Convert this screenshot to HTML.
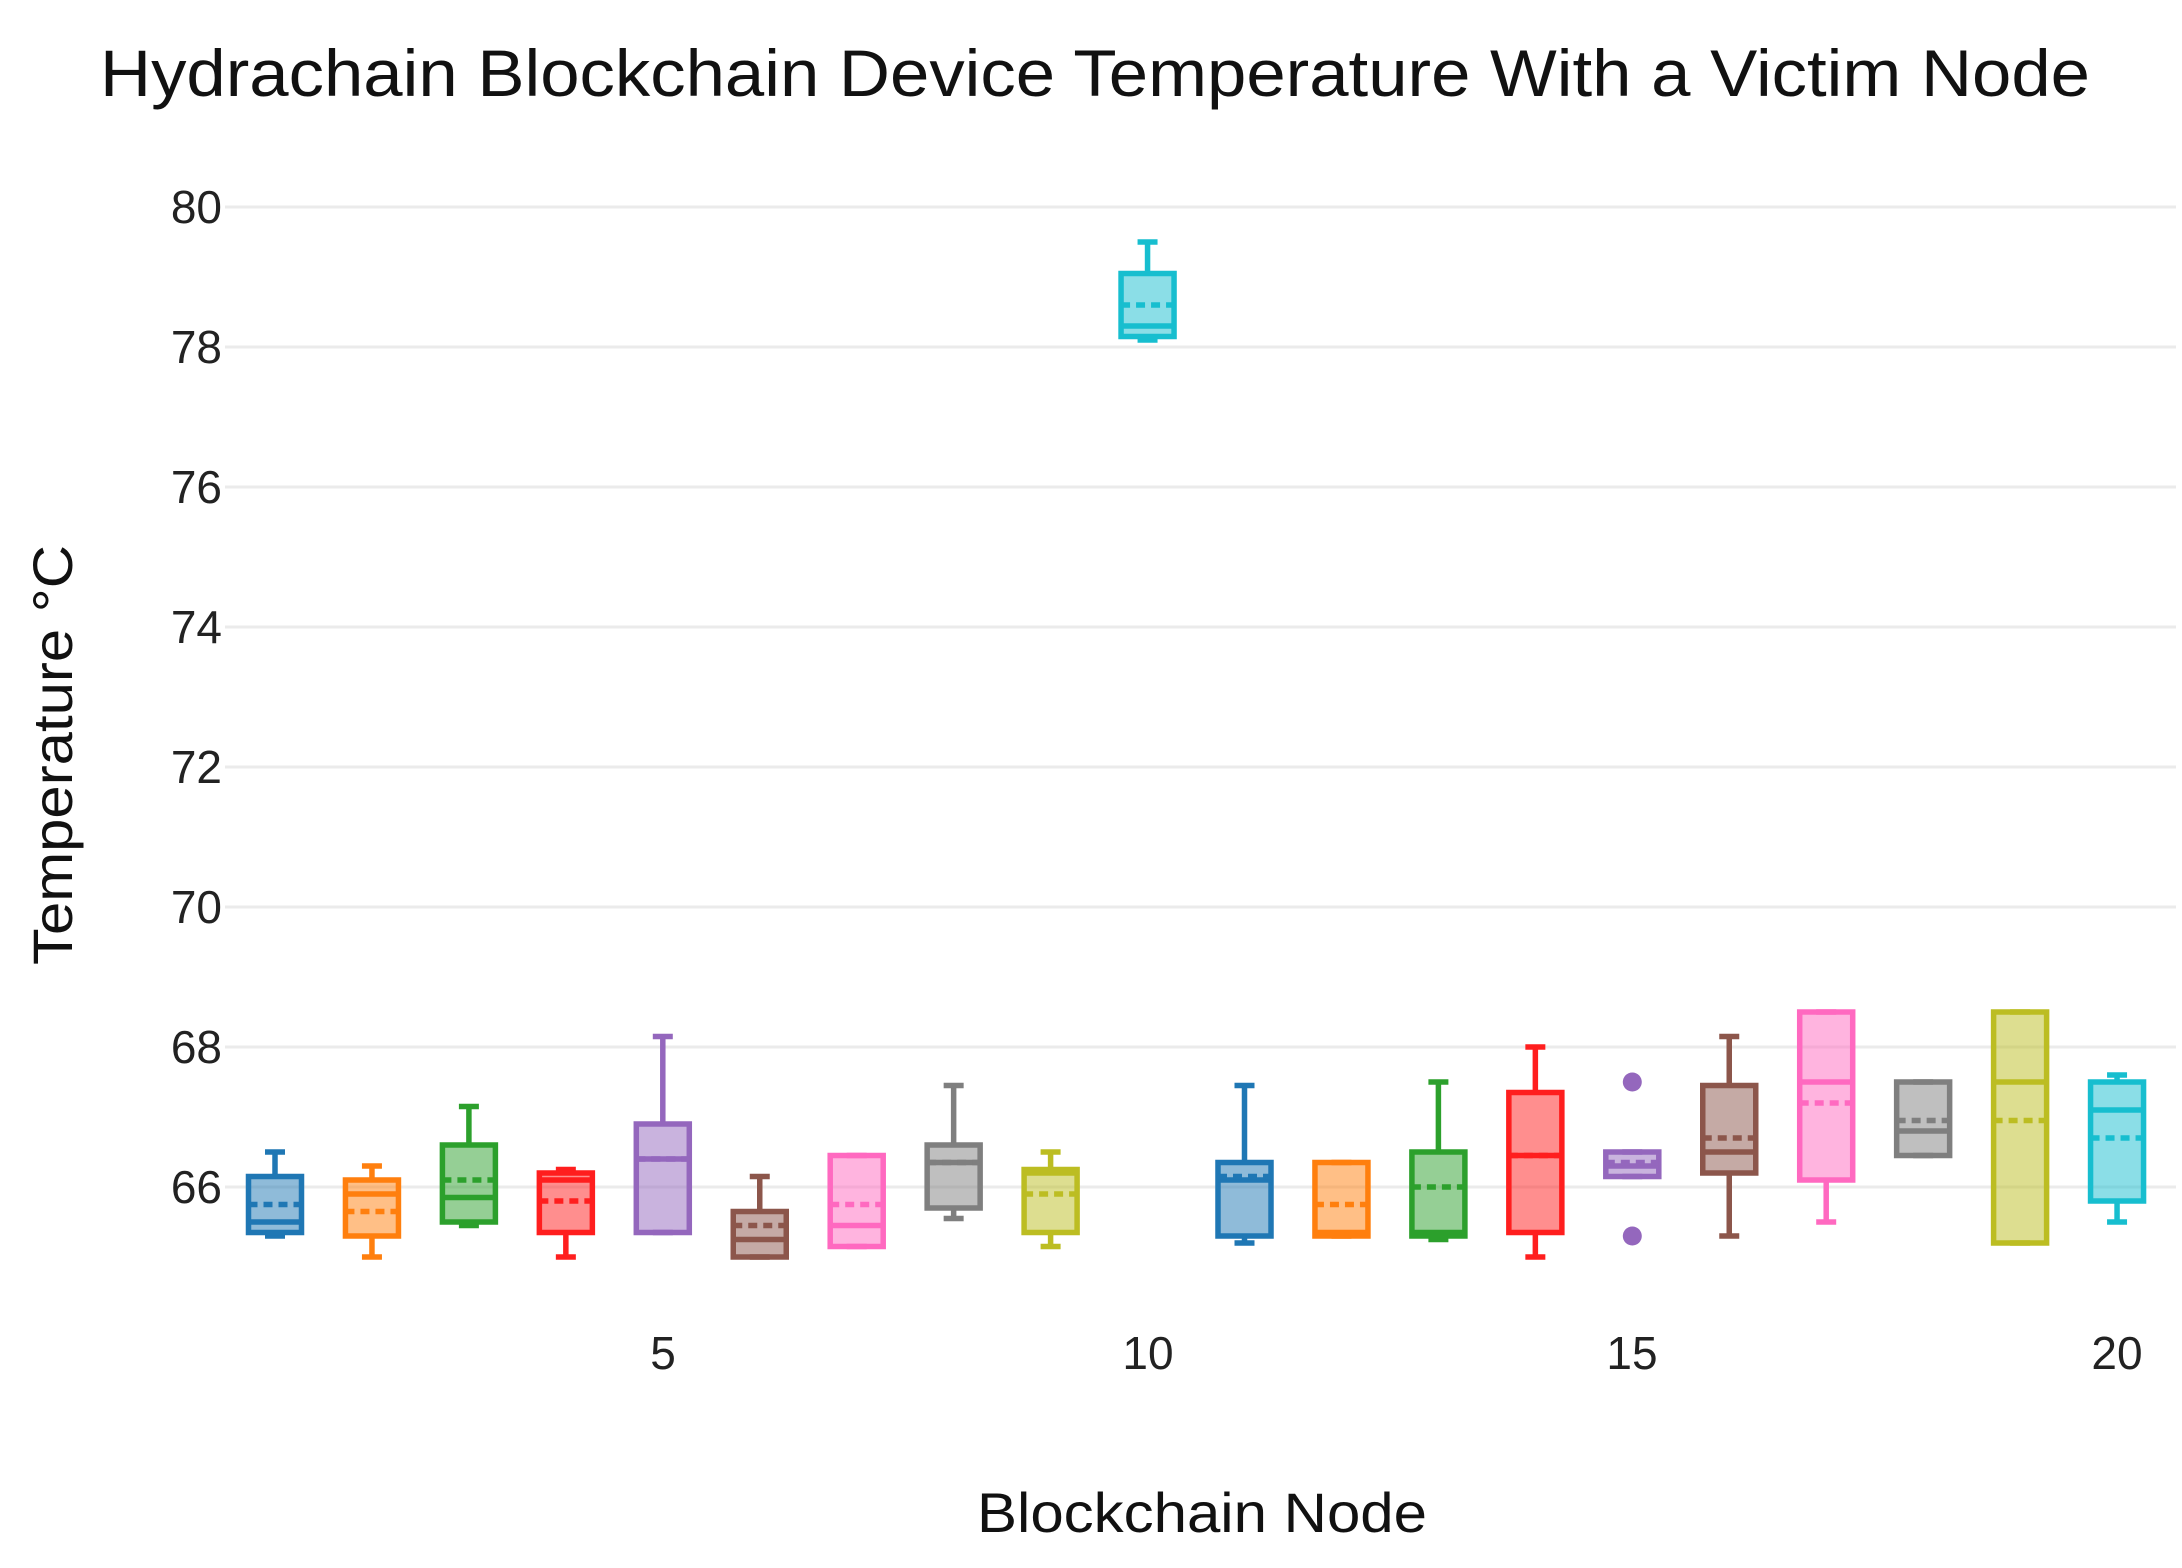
<!DOCTYPE html>
<html><head><meta charset="utf-8"><style>
html,body{margin:0;padding:0;background:#fff;}
svg{display:block;font-family:"Liberation Sans",sans-serif;}
</style></head><body>
<svg id="c" width="2182" height="1568" viewBox="0 0 2182 1568" xmlns="http://www.w3.org/2000/svg">
<rect width="2182" height="1568" fill="#fff"/>
<g stroke="#ebebeb" stroke-width="3">
<line x1="225" x2="2176" y1="207" y2="207"/>
<line x1="225" x2="2176" y1="347" y2="347"/>
<line x1="225" x2="2176" y1="487" y2="487"/>
<line x1="225" x2="2176" y1="627" y2="627"/>
<line x1="225" x2="2176" y1="767" y2="767"/>
<line x1="225" x2="2176" y1="907" y2="907"/>
<line x1="225" x2="2176" y1="1047" y2="1047"/>
<line x1="225" x2="2176" y1="1187" y2="1187"/>
</g>
<g font-size="46" fill="#222" text-anchor="end">
<text x="222" y="223">80</text>
<text x="222" y="363">78</text>
<text x="222" y="503">76</text>
<text x="222" y="643">74</text>
<text x="222" y="783">72</text>
<text x="222" y="923">70</text>
<text x="222" y="1063">68</text>
<text x="222" y="1203">66</text>
</g>
<g font-size="46" fill="#222" text-anchor="middle">
<text x="663" y="1369">5</text>
<text x="1148" y="1369">10</text>
<text x="1632" y="1369">15</text>
<text x="2117" y="1369">20</text>
</g>
<text x="1095" y="96" font-size="66" fill="#111" text-anchor="middle" textLength="1990" lengthAdjust="spacingAndGlyphs">Hydrachain Blockchain Device Temperature With a Victim Node</text>
<text x="1202" y="1532" font-size="56" fill="#111" text-anchor="middle" textLength="450" lengthAdjust="spacingAndGlyphs">Blockchain Node</text>
<text transform="translate(72,755) rotate(-90)" font-size="56" fill="#111" text-anchor="middle" textLength="420" lengthAdjust="spacingAndGlyphs">Temperature °C</text>
<g id="boxes"></g>
</svg>
<script>
var cols=["#1f77b4","#ff7f0e","#2ca02c","#d62728","#9467bd","#8c564b","#e377c2","#7f7f7f","#bcbd22","#17becf"];
cols[3]="#ff1e1e";cols[6]="#ff69c0";
var d=[
[65.3,65.35,65.5,66.15,66.5,65.75],
[65.0,65.3,65.9,66.1,66.3,65.65],
[65.45,65.5,65.85,66.6,67.15,66.1],
[65.0,65.35,66.1,66.2,66.25,65.8],
[65.35,65.35,66.4,66.9,68.15,66.4],
[65.0,65.0,65.25,65.65,66.15,65.45],
[65.15,65.15,65.45,66.45,66.45,65.75],
[65.55,65.7,66.35,66.6,67.45,66.35],
[65.15,65.35,66.2,66.25,66.5,65.9],
[78.1,78.15,78.3,79.05,79.5,78.6],
[65.2,65.3,66.1,66.35,67.45,66.15],
[65.3,65.3,65.35,66.35,66.35,65.75],
[65.25,65.3,65.35,66.5,67.5,66.0],
[65.0,65.35,66.45,67.35,68.0,66.45],
[66.15,66.15,66.3,66.5,66.5,66.35,[67.5,65.3]],
[65.3,66.2,66.5,67.45,68.15,66.7],
[65.5,66.1,67.5,68.5,68.5,67.2],
[66.45,66.45,66.8,67.5,67.5,66.95],
[65.2,65.2,67.5,68.5,68.5,66.95],
[65.5,65.8,67.1,67.5,67.6,66.7]];
function Y(v){return 207+(80-v)*70.0;}
var s="";
d.forEach(function(r,i){
 var c=cols[i%10],x=275+i*96.95,w=26.5,cw=10;
 s+='<g stroke="'+c+'" stroke-width="5.5" fill="none">';
 s+='<line x1="'+x+'" x2="'+x+'" y1="'+Y(r[4])+'" y2="'+Y(r[3])+'"/>';
 s+='<line x1="'+x+'" x2="'+x+'" y1="'+Y(r[1])+'" y2="'+Y(r[0])+'"/>';
 s+='<line x1="'+(x-cw)+'" x2="'+(x+cw)+'" y1="'+Y(r[4])+'" y2="'+Y(r[4])+'"/>';
 s+='<line x1="'+(x-cw)+'" x2="'+(x+cw)+'" y1="'+Y(r[0])+'" y2="'+Y(r[0])+'"/>';
 s+='<rect x="'+(x-w)+'" y="'+Y(r[3])+'" width="'+(2*w)+'" height="'+(Y(r[1])-Y(r[3]))+'" fill="'+c+'" fill-opacity="0.5"/>';
 s+='<line x1="'+(x-w)+'" x2="'+(x+w)+'" y1="'+Y(r[2])+'" y2="'+Y(r[2])+'"/>';
 s+='<line x1="'+(x-w)+'" x2="'+(x+w)+'" y1="'+Y(r[5])+'" y2="'+Y(r[5])+'" stroke-dasharray="9,6"/>';
 s+='</g>';
 if(r[6])r[6].forEach(function(o){s+='<circle cx="'+x+'" cy="'+Y(o)+'" r="9.5" fill="'+c+'"/>';});
});
document.getElementById("boxes").innerHTML=s;
</script>
</body></html>
